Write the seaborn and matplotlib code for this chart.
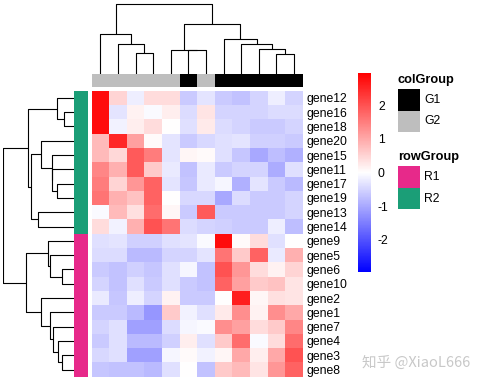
import numpy as np
import pandas as pd
import matplotlib
matplotlib.use("Agg")
import matplotlib.pyplot as plt
import seaborn as sns
from matplotlib.colors import ListedColormap
from matplotlib.patches import Rectangle

genes = ["gene12", "gene16", "gene18", "gene20", "gene15", "gene11", "gene17",
         "gene19", "gene13", "gene14", "gene9", "gene5", "gene6", "gene10",
         "gene2", "gene1", "gene7", "gene4", "gene3", "gene8"]
samples = ["S%d" % i for i in range(1, 13)]

values = [
    [2.8, 0.5, -0.2, 0.4, 0.4, -0.6, -0.3, -0.6, -0.7, -0.5, -0.2, -0.5],
    [2.8, -0.3, 0.15, -0.05, 0.2, -0.4, 0.3, -0.5, -0.5, -0.5, -0.4, -0.4],
    [2.8, -0.15, 0.2, 0.4, 0.0, -0.35, 0.25, -0.4, -0.5, -0.6, -0.6, -0.5],
    [0.8, 2.5, 1.1, 0.05, -0.3, -0.6, -0.45, -0.35, -0.3, -0.55, -0.55, -0.6],
    [0.8, 0.45, 1.9, 1.5, -0.3, 0.1, 0.05, -0.35, -0.65, -1.0, -0.75, -0.9],
    [1.4, 0.9, 1.9, 0.6, -0.25, -0.7, -0.25, -0.6, -0.5, -0.5, -0.95, -0.35],
    [1.5, 0.5, 1.2, 1.8, -0.3, -0.65, -0.25, -0.1, -0.9, -0.3, -0.6, -0.8],
    [1.6, 0.9, 0.7, 1.8, 0.0, -0.45, -0.45, -1.0, -0.4, -0.6, -0.6, -0.5],
    [-0.05, 0.8, 0.35, 1.7, 0.1, -0.6, 1.9, -0.6, -0.6, -0.6, -0.6, -0.5],
    [0.4, -0.15, 0.9, 2.0, 1.6, -0.4, -0.5, -0.55, -0.6, -0.6, -0.2, -0.75],
    [-0.35, -0.3, -0.55, -0.55, -0.35, -0.3, -0.05, 2.8, 0.05, 0.4, -0.35, 0.0],
    [-0.4, -0.4, -0.8, -0.8, -0.5, -0.5, -0.3, 1.6, 0.6, 1.8, -0.25, 0.9],
    [-0.6, -0.7, -0.55, -0.65, -0.35, -0.1, -0.7, 2.0, 1.2, 0.4, 0.15, 0.5],
    [-0.5, -0.7, -0.35, -0.6, -0.35, -0.6, -0.7, 1.8, 1.1, 0.6, 0.7, 0.3],
    [-0.25, -0.65, -0.2, -0.5, 0.15, -0.6, -0.6, 0.0, 2.6, 0.1, 0.35, 0.3],
    [-0.6, -0.6, -0.8, -1.2, 0.6, -0.15, -0.35, 0.25, 1.3, 0.15, 1.3, 1.0],
    [-0.5, -0.35, -1.1, -1.1, -0.4, -0.1, -0.05, 1.3, 1.1, 0.4, 0.6, 1.4],
    [-0.6, -0.35, -0.8, -0.8, -0.55, 0.2, -0.35, 0.6, 1.7, -0.05, 0.4, 1.7],
    [-0.45, -0.35, -1.1, -1.1, -0.1, 0.05, -0.15, 0.1, 1.0, 0.2, 1.0, 2.0],
    [-0.65, -0.7, -0.7, -0.8, -0.35, 0.0, -0.7, 0.6, 0.8, 0.3, 1.2, 1.8],
]

col_group = ["G2", "G2", "G2", "G2", "G2", "G1", "G2", "G1", "G1", "G1", "G1", "G1"]
row_group = ["R2"] * 10 + ["R1"] * 10
group_colors = {"G1": "#000000", "G2": "#BEBEBE", "R1": "#E7298A", "R2": "#1B9E77"}

# merge trees in display order: (a, b, height); ids >= n point to earlier merges
col_merges = [(2, 3, 20.3), (1, 12, 29.3), (0, 13, 39.3), (5, 6, 23.3), (4, 15, 24.0),
              (10, 11, 19.3), (9, 17, 24.3), (8, 18, 29.3), (7, 19, 35.0),
              (16, 20, 49.3), (14, 21, 70.0)]
row_merges = [(1, 2, 9.7), (0, 20, 17.3), (6, 7, 17.3), (5, 22, 21.7), (4, 23, 22.3),
              (3, 24, 33.3), (8, 9, 35.7), (25, 26, 43.3), (21, 27, 45.7),
              (12, 13, 11.7), (11, 29, 24.0), (10, 30, 26.3), (18, 19, 11.7),
              (17, 32, 15.7), (16, 33, 20.7), (15, 34, 24.0), (14, 35, 33.3),
              (31, 36, 48.0), (28, 37, 70.7)]


def dendro_segments(merges, n):
    pos = {i: i + 0.5 for i in range(n)}
    hgt = {i: 0.0 for i in range(n)}
    segs = []
    for k, (a, b, h) in enumerate(merges):
        segs.append(([pos[a], pos[a], pos[b], pos[b]], [hgt[a], h, h, hgt[b]]))
        pos[n + k] = (pos[a] + pos[b]) / 2
        hgt[n + k] = h
    return segs


plt.rcParams["font.family"] = ["Liberation Sans", "DejaVu Sans"]
plt.rcParams["axes.unicode_minus"] = False

W, H = 480, 384
fig = plt.figure(figsize=(4.8, 3.84), dpi=100)


def px_axes(x0, y0, x1, y1):
    return fig.add_axes([x0 / W, 1 - y1 / H, (x1 - x0) / W, (y1 - y0) / H])


df = pd.DataFrame(values, index=genes, columns=samples)

ax = px_axes(91.7, 90.7, 302.7, 376.7)
cax = px_axes(358, 73, 371, 272)
sns.heatmap(df, ax=ax, cmap="bwr", vmin=-2.95, vmax=2.95, cbar_ax=cax,
            cbar_kws={"ticks": [-2, -1, 0, 1, 2]}, xticklabels=False,
            yticklabels=True, linewidths=0)
ax.yaxis.tick_right()
ax.tick_params(axis="y", length=0, pad=3, labelsize=8.8, labelrotation=0)
ax.set_xlabel("")
ax.set_ylabel("")
cbar = ax.collections[0].colorbar
cbar.outline.set_visible(False)
cax.tick_params(length=0, pad=5, labelsize=8.8)

# column annotation bar
col_keys = sorted(set(col_group))
ax_ca = px_axes(91.7, 74, 302.7, 86.7)
sns.heatmap(pd.DataFrame([[col_keys.index(g) for g in col_group]]), ax=ax_ca,
            cmap=ListedColormap([group_colors[k] for k in col_keys]),
            vmin=-0.5, vmax=len(col_keys) - 0.5, cbar=False,
            xticklabels=False, yticklabels=False)

# row annotation bar
row_keys = sorted(set(row_group))
ax_ra = px_axes(74, 90.7, 87.7, 376.7)
sns.heatmap(pd.DataFrame([[row_keys.index(g)] for g in row_group]), ax=ax_ra,
            cmap=ListedColormap([group_colors[k] for k in row_keys]),
            vmin=-0.5, vmax=len(row_keys) - 0.5, cbar=False,
            xticklabels=False, yticklabels=False)

# column dendrogram
ax_cd = px_axes(91.7, 3, 302.7, 73.5)
for xs, ys in dendro_segments(col_merges, len(samples)):
    ax_cd.plot(xs, ys, color="black", lw=0.8, solid_capstyle="butt")
ax_cd.set_xlim(0, len(samples))
ax_cd.set_ylim(0, 70.5)
ax_cd.axis("off")

# row dendrogram
ax_rd = px_axes(3, 90.7, 74, 376.7)
for ys, xs in dendro_segments(row_merges, len(genes)):
    ax_rd.plot(xs, ys, color="black", lw=0.8, solid_capstyle="butt")
ax_rd.set_ylim(len(genes), 0)
ax_rd.set_xlim(71, 0)
ax_rd.axis("off")

# annotation legends
ax_lg = px_axes(0, 0, W, H)
ax_lg.set_xlim(0, W)
ax_lg.set_ylim(H, 0)
ax_lg.axis("off")
y = 80
for title, keys in [("colGroup", col_keys), ("rowGroup", row_keys)]:
    ax_lg.text(398, y, title, fontsize=9.2, fontweight="bold", va="center", ha="left")
    yb = y + 9
    for k in keys:
        ax_lg.add_patch(Rectangle((398, yb), 21.5, 21.5, color=group_colors[k], lw=0))
        ax_lg.text(424, yb + 11, k, fontsize=8.8, va="center", ha="left")
        yb += 21.5
    y = 157

fig.text(362 / W, 1 - 363 / H, "知乎 @XiaoL666", fontsize=10.5, color="#c8c8c8",
         family=["Noto Sans CJK SC", "DejaVu Sans"], va="center", ha="left")

fig.savefig("out.png", dpi=100)
plt.close(fig)
